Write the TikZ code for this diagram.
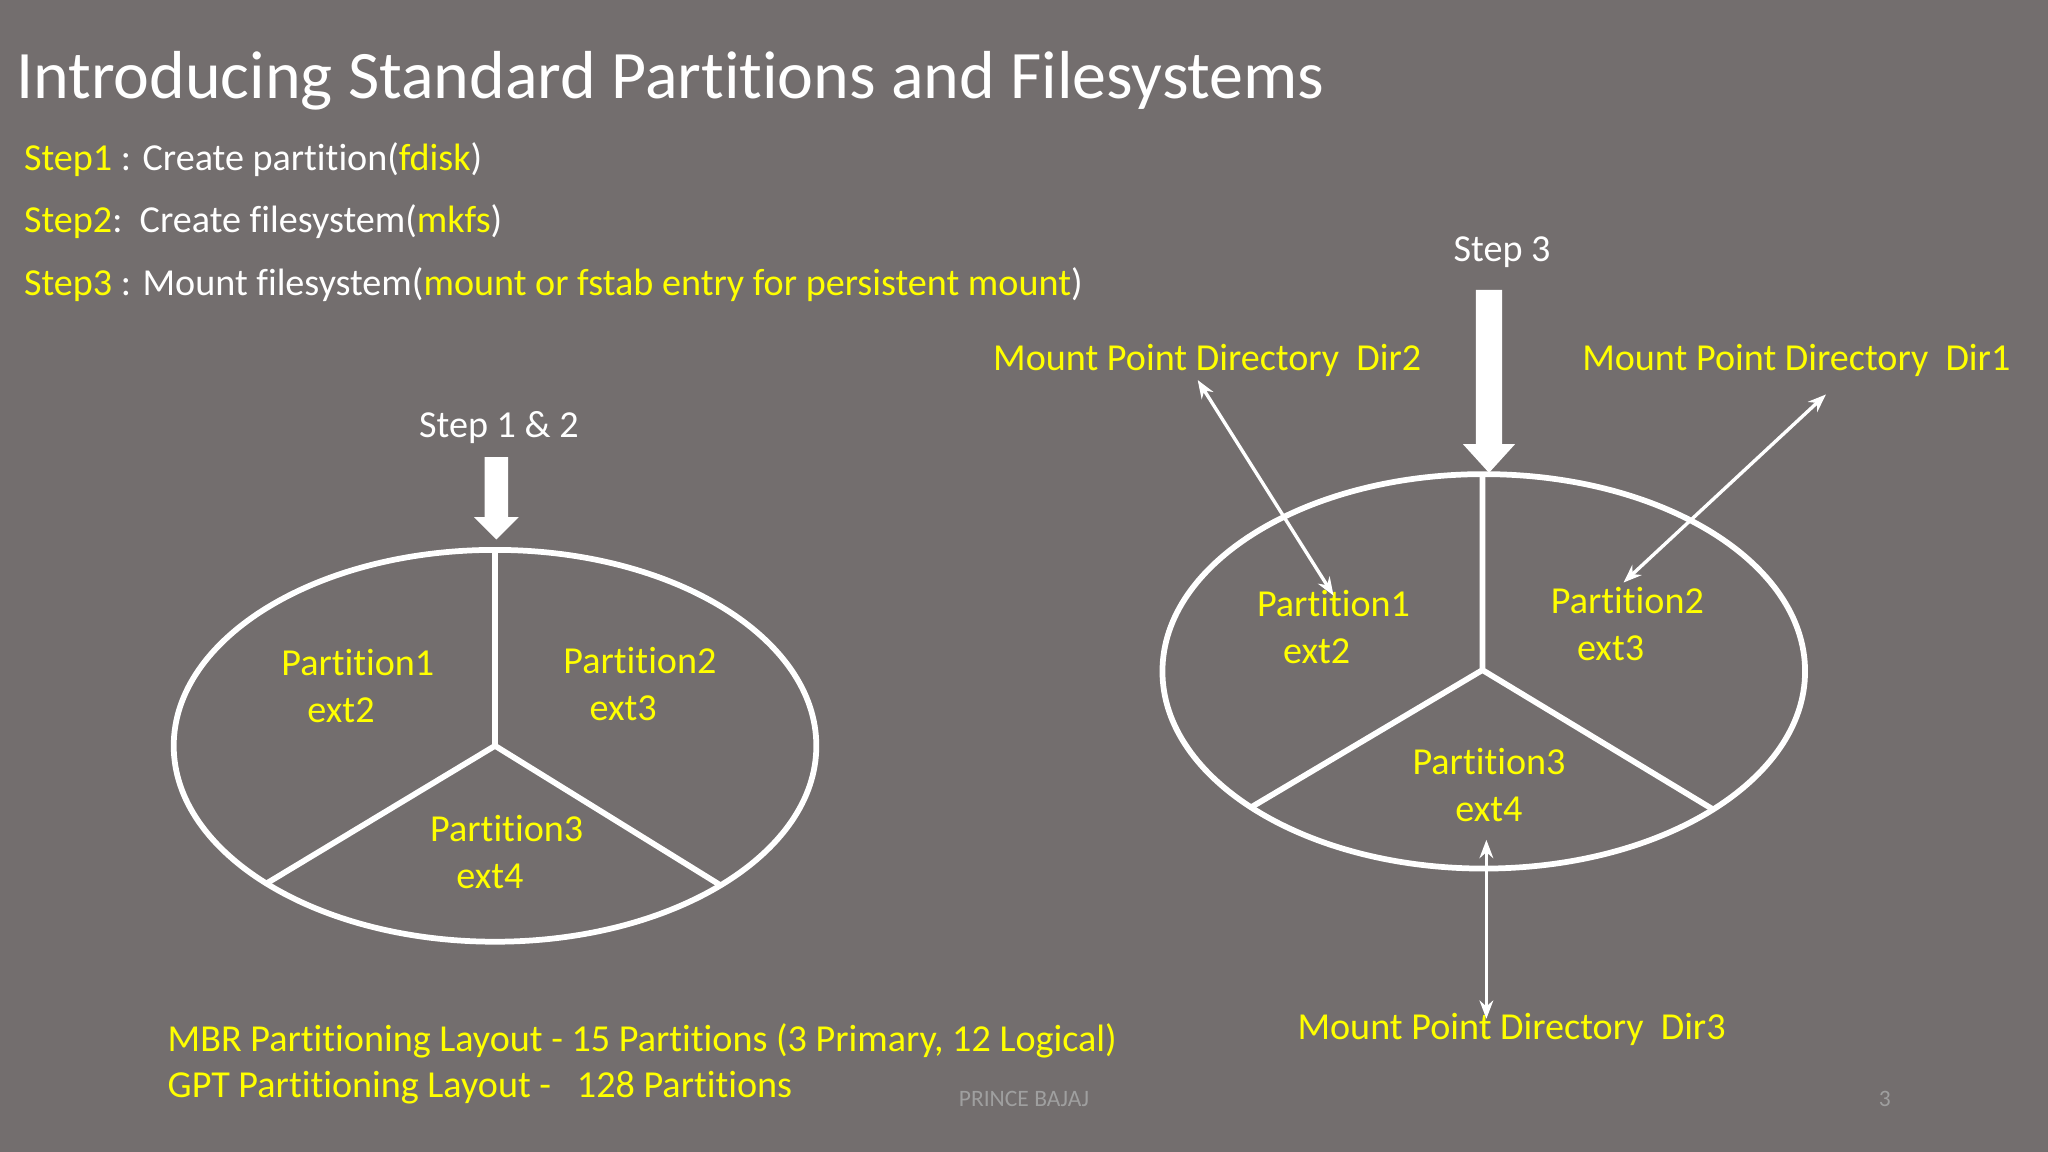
\documentclass[tikz,border=0pt]{standalone}
\usepackage{fontspec}
\setmainfont[Ligatures={NoCommon,NoContextual}]{Carlito}
\usetikzlibrary{arrows.meta}
\definecolor{bg}{HTML}{736E6E}
\definecolor{yl}{HTML}{FFFF00}
\begin{document}
\begin{tikzpicture}[x=0.5pt,y=-0.5pt,
  body/.style={font=\fontsize{14.6}{16}\selectfont,inner sep=0pt},
  yt/.style={body,text=yl},
  wt/.style={body,text=white},
  ln/.style={white,line width=2.2pt},
  dbl/.style={white,line width=1.3pt,{Stealth[length=7pt]}-{Stealth[length=7pt]}}]
\fill[bg] (0,0) rectangle (1568,882);
\useasboundingbox (0,0) rectangle (1568,882);
\node[anchor=west,text=white,font=\fontsize{26}{28}\selectfont,inner sep=0pt] (title) at (12,62) {Introducing Standard Partitions and Filesystems};
\node[wt,anchor=west] (s1) at (18,122) {\textcolor{yl}{Step1} : Create partition(\textcolor{yl}{fdisk})};
\node[wt,anchor=west] (s2) at (18,170) {\textcolor{yl}{Step2}:\ \ Create filesystem(\textcolor{yl}{mkfs})};
\node[wt,anchor=west] (s3) at (18,218) {\textcolor{yl}{Step3} : Mount filesystem(\textcolor{yl}{mount or fstab entry for persistent mount})};
% left disk
\coordinate (lc) at (379,571);
\draw[ln] (lc) ellipse [x radius=246, y radius=150];
\coordinate (lt) at (379,422); \coordinate (ll) at (203,677); \coordinate (lr) at (552,678);
\draw[ln] (lc)--(lt) (lc)--(ll) (lc)--(lr);
\fill[white] (371,350) rectangle (389,396) -- (397,396) -- (380,413) -- (363,396) -- (371,396) -- cycle;
\node[wt] (st12) at (382,327) {Step 1 \& 2};
\node[yt,align=left,anchor=west] (lp1) at (215,525) {Partition1\\[2pt]\hspace*{10pt}ext2};
\node[yt,align=left,anchor=west] (lp2) at (431,524) {Partition2\\[2pt]\hspace*{10pt}ext3};
\node[yt,align=left,anchor=west] (lp3) at (329,652) {Partition3\\[2pt]\hspace*{10pt}ext4};
% right disk
\coordinate (rc) at (1136,514);
\draw[ln] (rc) ellipse [x radius=246, y radius=151];
\coordinate (rt) at (1135,365); \coordinate (rl) at (958,618); \coordinate (rr) at (1312,620);
\draw[ln] (1135,513)--(rt) (1135,513)--(rl) (1135,513)--(rr);
\fill[white] (1130,222) rectangle (1150,340) -- (1160,340) -- (1140,362) -- (1120,340) -- (1130,340) -- cycle;
\node[wt] (st3) at (1150,193) {Step 3};
\node[yt,align=left,anchor=west] (rp1) at (962,480) {Partition1\\[2pt]\hspace*{10pt}ext2};
\node[yt,align=left,anchor=west] (rp2) at (1187,478) {Partition2\\[2pt]\hspace*{10pt}ext3};
\node[yt,align=center] (rp3) at (1140,601) {Partition3\\[2pt]ext4};
\node[yt,anchor=west] (d2) at (760,276) {Mount Point Directory\ \ Dir2};
\node[yt,anchor=west] (d1) at (1211,276) {Mount Point Directory\ \ Dir1};
\node[yt,anchor=west] (d3) at (993,788) {Mount Point Directory\ \ Dir3};
\coordinate (a2s) at (917,291); \coordinate (a2e) at (1021,456);
\coordinate (a1s) at (1398,302); \coordinate (a1e) at (1243,446);
\coordinate (a3s) at (1138,643); \coordinate (a3e) at (1138,780);
\draw[dbl] (a2s)--(a2e);
\draw[dbl] (a1s)--(a1e);
\draw[dbl] (a3s)--(a3e);
\node[yt,anchor=west] (mbr) at (128,797) {MBR Partitioning Layout - 15 Partitions (3 Primary, 12 Logical)};
\node[yt,anchor=west] (gpt) at (128,833) {GPT Partitioning Layout -\ \ \ 128 Partitions};
\node[text=gray!75,font=\fontsize{9}{10}\selectfont,inner sep=0pt] (pb) at (784,841) {PRINCE BAJAJ};
\node[text=gray!75,font=\fontsize{9}{10}\selectfont,inner sep=0pt] (pg) at (1443,841) {3};
\end{tikzpicture}
\end{document}
